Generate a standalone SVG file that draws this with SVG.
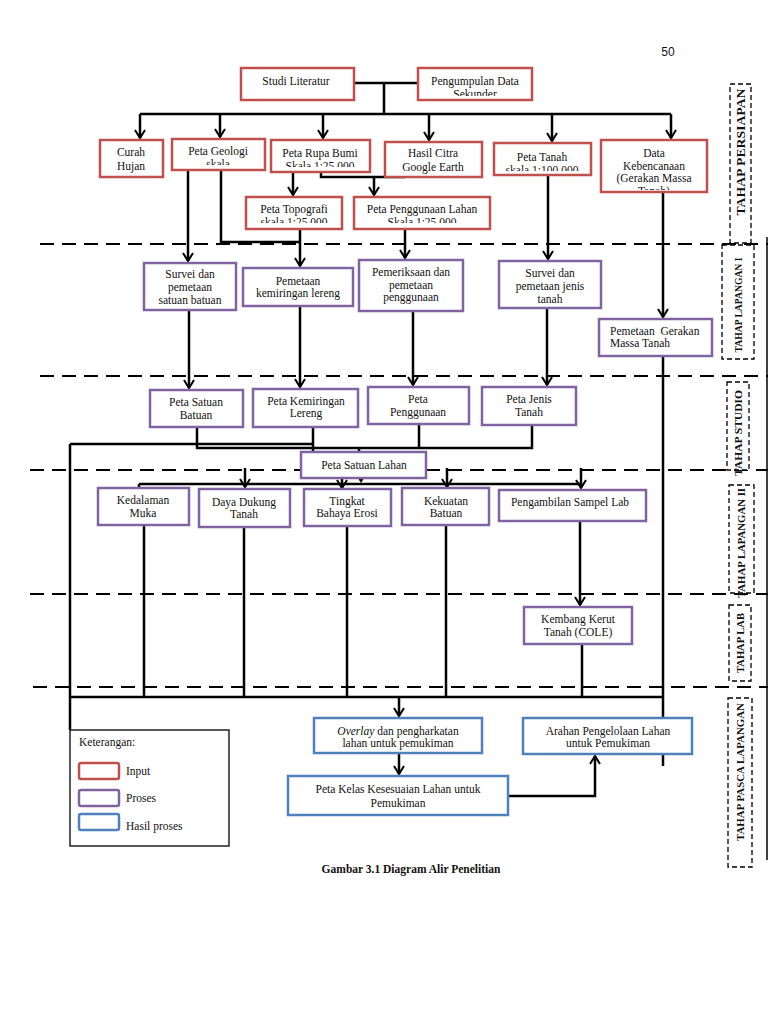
<svg xmlns="http://www.w3.org/2000/svg" width="768" height="1024" viewBox="0 0 768 1024">
<style>
text{font-family:"Liberation Serif","Times New Roman",serif;font-size:11.5px;fill:#111}
.c{text-anchor:middle}
.in{fill:#fff;stroke:#c0504d;stroke-width:2.5}
.pr{fill:#fff;stroke:#8064a2;stroke-width:2.5}
.rs{fill:#fff;stroke:#4f81bd;stroke-width:2.5}
.ln{fill:none;stroke:#000;stroke-width:2.5}
.ar{fill:none;stroke:#000;stroke-width:2.5;marker-end:url(#ah)}
.dash{fill:none;stroke:#000;stroke-width:2;stroke-dasharray:14 8}
.lb{fill:#fff;stroke:#000;stroke-width:1.3;stroke-dasharray:5 3}
.sh{fill:none;stroke:#aaa;stroke-width:1.5}
.lt{font-weight:bold;font-size:10.5px;text-anchor:middle}
</style>
<defs>
<marker id="ah" viewBox="-10 -6 12 12" refX="0" refY="0" markerWidth="12" markerHeight="12" markerUnits="userSpaceOnUse" orient="auto">
<path d="M-8,-5 L0,0 L-8,5" fill="none" stroke="#000" stroke-width="2"/>
</marker>
<clipPath id="cp1"><rect x="418" y="68" width="114" height="28"/></clipPath>
<clipPath id="cp2"><rect x="172" y="139" width="93" height="26"/></clipPath>
<clipPath id="cp3"><rect x="271" y="140" width="99" height="27"/></clipPath>
<clipPath id="cp4"><rect x="494" y="143" width="97" height="28"/></clipPath>
<clipPath id="cp5"><rect x="601" y="140" width="106" height="50"/></clipPath>
<clipPath id="cp6"><rect x="246" y="197" width="96" height="26"/></clipPath>
<clipPath id="cp7"><rect x="354" y="197" width="136" height="26"/></clipPath>
</defs>
<rect width="768" height="1024" fill="#fff"/>
<text x="668" y="56" class="c" style="font-family:'Liberation Sans',Arial,sans-serif;font-size:12px">50</text>

<g id="phases">
<path class="dash" d="M40,244 H768 M40,376 H768 M30,470 H768 M30,594 H768 M33,687 H768"/>
<line x1="767" y1="237" x2="767" y2="860" stroke="#000" stroke-width="1.5"/>
<g id="tahap-persiapan"><rect class="lb" x="730" y="84" width="21" height="159"/><text class="lt" style="font-size:12px" transform="rotate(-90 741 152)" x="741" y="156" textLength="127" lengthAdjust="spacingAndGlyphs">TAHAP PERSIAPAN</text></g>
<g id="tahap-lapangan-1"><rect class="lb" x="722" y="245" width="32" height="114"/><text class="lt" transform="rotate(-90 738 305)" x="738" y="309" textLength="95" lengthAdjust="spacingAndGlyphs">TAHAP LAPANGAN I</text></g>
<g id="tahap-studio"><rect class="lb" x="727" y="382" width="22" height="88"/><text class="lt" transform="rotate(-90 738 433)" x="738" y="437" textLength="86" lengthAdjust="spacingAndGlyphs">TAHAP STUDIO</text></g>
<g id="tahap-lapangan-2"><rect class="lb" x="729" y="485" width="25" height="108"/><text class="lt" transform="rotate(-90 741 543)" x="741" y="547" textLength="110" lengthAdjust="spacingAndGlyphs">TAHAP LAPANGAN II</text></g>
<g id="tahap-lab"><rect class="lb" x="729" y="605" width="22" height="76"/><text class="lt" transform="rotate(-90 740 643)" x="740" y="647" textLength="60" lengthAdjust="spacingAndGlyphs">TAHAP LAB</text></g>
<g id="tahap-pasca"><rect class="lb" x="728" y="698" width="24" height="169"/><text class="lt" transform="rotate(-90 740 772)" x="740" y="776" textLength="138" lengthAdjust="spacingAndGlyphs">TAHAP PASCA LAPANGAN</text></g>
</g>

<g id="connectors">
<path class="ln" d="M354,83 H418" stroke-width="3.5"/>
<path class="ln" d="M384,83 V114 M140,114 H671"/>
<path class="ar" d="M140,114 V138"/>
<path class="ar" d="M220,114 V137"/>
<path class="ar" d="M323,114 V138"/>
<path class="ar" d="M429,114 V140"/>
<path class="ar" d="M552,114 V141"/>
<path class="ar" d="M671,114 V138"/>
<path class="ar" d="M293,157 V195"/>
<path class="ln" d="M321,157 V177 H404 V158"/>
<path class="ar" d="M374,177 V195"/>
<path class="ar" d="M188,155 V261"/>
<path class="ln" d="M221,155 V242 H300"/>
<path class="ar" d="M300,229 V266"/>
<path class="ar" d="M405,229 V258"/>
<path class="ar" d="M548,157 V259"/>
<path class="ar" d="M663,183 V317"/>
<path class="ar" d="M189,310 V388"/>
<path class="ar" d="M300,306 V387"/>
<path class="ar" d="M413,311 V385"/>
<path class="ar" d="M547,308 V385"/>
<path class="ln" d="M197,427 V448 H532 V425 M419,424 V448"/>
<path class="ln" d="M313,427 V452 M70,444 H313 M359,448 V452"/>
<path class="ln" d="M70,444 V730"/>
<path class="ln" d="M663,356 V766"/>
<path class="ln" d="M139,484 H581 M139,484 V488"/>
<path class="ar" d="M245,468 V487"/>
<path class="ar" d="M342,468 V488"/>
<path class="ar" d="M361,460 V481"/>
<path class="ar" d="M447,468 V487"/>
<path class="ar" d="M581,468 V488"/>
<path class="ln" d="M144,520 V697 M244,518 V697 M347,518 V697 M446,518 V697 M582,644 V697"/>
<path class="ar" d="M580,503 V605"/>
<path class="ln" d="M70,697 H664"/>
<path class="ar" d="M399,697 V716"/>
<path class="ar" d="M399,753 V774"/>
<path class="ar" d="M508,796 H595 V756"/>
</g>

<g id="studi-literatur"><rect class="in" x="241" y="68" width="113" height="32"/><text class="c" x="296" y="85">Studi Literatur</text></g>
<g id="pengumpulan-data"><rect class="in" x="418" y="68" width="114" height="32"/><g clip-path="url(#cp1)"><text class="c" x="475" y="85">Pengumpulan Data</text><text class="c" x="475" y="98">Sekunder</text></g></g>
<g id="curah-hujan"><rect class="in" x="100" y="140" width="63" height="37"/><text class="c" x="131" y="156">Curah</text><text class="c" x="131" y="170">Hujan</text></g>
<g id="peta-geologi"><rect class="in" x="172" y="139" width="93" height="31"/><g clip-path="url(#cp2)"><text class="c" x="218" y="155">Peta Geologi</text><text class="c" x="218" y="168">skala</text></g></g>
<g id="peta-rupa-bumi"><rect class="in" x="271" y="140" width="99" height="32"/><g clip-path="url(#cp3)"><text class="c" x="320" y="157">Peta Rupa Bumi</text><text class="c" x="320" y="170">Skala 1:25.000</text></g></g>
<g id="hasil-citra"><rect class="in" x="385" y="142" width="97" height="35"/><text class="c" x="433" y="157">Hasil Citra</text><text class="c" x="433" y="171">Google Earth</text></g>
<g id="peta-tanah"><rect class="in" x="494" y="143" width="97" height="32"/><g clip-path="url(#cp4)"><text class="c" x="542" y="161">Peta Tanah</text><text class="c" x="542" y="174">skala 1:100.000</text></g></g>
<g id="data-kebencanaan"><rect class="in" x="601" y="140" width="106" height="52"/><g clip-path="url(#cp5)"><text class="c" x="654" y="157">Data</text><text class="c" x="654" y="170">Kebencanaan</text><text class="c" x="654" y="182">(Gerakan Massa</text><text class="c" x="654" y="195">Tanah)</text></g></g>
<g id="peta-topografi"><rect class="in" x="246" y="197" width="96" height="32"/><g clip-path="url(#cp6)"><text class="c" x="294" y="213">Peta Topografi</text><text class="c" x="294" y="226">skala 1:25.000</text></g></g>
<g id="peta-penggunaan-lahan"><rect class="in" x="354" y="197" width="136" height="32"/><g clip-path="url(#cp7)"><text class="c" x="422" y="213">Peta Penggunaan Lahan</text><text class="c" x="422" y="226">Skala 1:25.000</text></g></g>

<g id="survei-batuan"><rect class="pr" x="144" y="263" width="92" height="47"/><text class="c" x="190" y="278">Survei dan</text><text class="c" x="190" y="291">pemetaan</text><text class="c" x="190" y="304">satuan batuan</text></g>
<g id="pemetaan-kemiringan"><rect class="pr" x="243" y="268" width="110" height="38"/><text class="c" x="298" y="285">Pemetaan</text><text class="c" x="298" y="297">kemiringan lereng</text></g>
<g id="pemeriksaan"><rect class="pr" x="359" y="260" width="104" height="51"/><text class="c" x="411" y="276">Pemeriksaan dan</text><text class="c" x="411" y="289">pemetaan</text><text class="c" x="411" y="301">penggunaan</text></g>
<g id="survei-tanah"><rect class="pr" x="499" y="261" width="102" height="47"/><text class="c" x="550" y="277">Survei dan</text><text class="c" x="550" y="290">pemetaan jenis</text><text class="c" x="550" y="303">tanah</text></g>
<g id="pemetaan-gerakan"><rect class="pr" x="599" y="319" width="113" height="37"/><text x="610" y="335" xml:space="preserve">Pemetaan  Gerakan</text><text x="610" y="347">Massa Tanah</text></g>

<g id="peta-satuan-batuan"><rect class="pr" x="150" y="390" width="93" height="37"/><text class="c" x="196" y="406">Peta Satuan</text><text class="c" x="196" y="419">Batuan</text></g>
<g id="peta-kemiringan"><rect class="pr" x="253" y="389" width="105" height="38"/><text class="c" x="306" y="405">Peta Kemiringan</text><text class="c" x="306" y="417">Lereng</text></g>
<g id="peta-penggunaan"><rect class="pr" x="368" y="387" width="101" height="37"/><text class="c" x="418" y="403">Peta</text><text class="c" x="418" y="416">Penggunaan</text></g>
<g id="peta-jenis-tanah"><rect class="pr" x="482" y="387" width="94" height="38"/><text class="c" x="529" y="403">Peta Jenis</text><text class="c" x="529" y="416">Tanah</text></g>

<g id="peta-satuan-lahan"><rect class="pr" x="301" y="452" width="125" height="26"/><text class="c" x="364" y="469">Peta Satuan Lahan</text></g>
<g id="kedalaman-muka"><rect class="pr" x="98" y="488" width="91" height="37"/><text class="c" x="143" y="504">Kedalaman</text><text class="c" x="143" y="517">Muka</text></g>
<g id="daya-dukung"><rect class="pr" x="199" y="489" width="91" height="38"/><text class="c" x="244" y="506">Daya Dukung</text><text class="c" x="244" y="518">Tanah</text></g>
<g id="tingkat-erosi"><rect class="pr" x="304" y="489" width="87" height="37"/><text class="c" x="347" y="505">Tingkat</text><text class="c" x="347" y="517">Bahaya Erosi</text></g>
<g id="kekuatan-batuan"><rect class="pr" x="402" y="488" width="87" height="37"/><text class="c" x="446" y="505">Kekuatan</text><text class="c" x="446" y="517">Batuan</text></g>
<g id="pengambilan-sampel"><rect class="pr" x="499" y="490" width="147" height="31"/><text class="c" x="570" y="506">Pengambilan Sampel Lab</text></g>
<g id="kembang-kerut"><rect class="pr" x="524" y="607" width="108" height="37"/><text class="c" x="578" y="623">Kembang Kerut</text><text class="c" x="578" y="636">Tanah (COLE)</text></g>

<g id="overlay"><rect class="rs" x="314" y="718" width="168" height="35"/><text class="c" x="398" y="735"><tspan font-style="italic">Overlay</tspan> dan pengharkatan</text><text class="c" x="398" y="747">lahan untuk pemukiman</text></g>
<g id="peta-kelas"><rect class="rs" x="288" y="776" width="220" height="39"/><text class="c" x="398" y="793">Peta Kelas Kesesuaian Lahan untuk</text><text class="c" x="398" y="807">Pemukiman</text></g>
<g id="arahan"><rect class="rs" x="523" y="718" width="169" height="36"/><text class="c" x="608" y="735">Arahan Pengelolaan Lahan</text><text class="c" x="608" y="747">untuk Pemukiman</text></g>

<g id="legend">
<rect x="70" y="730" width="159" height="116" fill="#fff" stroke="#000" stroke-width="1.3"/>
<text x="79" y="746">Keterangan:</text>
<rect class="in" x="79" y="763" width="40" height="16" rx="2"/><text x="126" y="775">Input</text>
<rect class="pr" x="79" y="790" width="40" height="16" rx="2"/><text x="126" y="802">Proses</text>
<rect class="rs" x="79" y="814" width="40" height="16" rx="2"/><text x="126" y="830">Hasil proses</text>
</g>
<text class="c" x="411" y="873" style="font-weight:bold;font-size:11.5px">Gambar 3.1 Diagram Alir Penelitian</text>
</svg>
